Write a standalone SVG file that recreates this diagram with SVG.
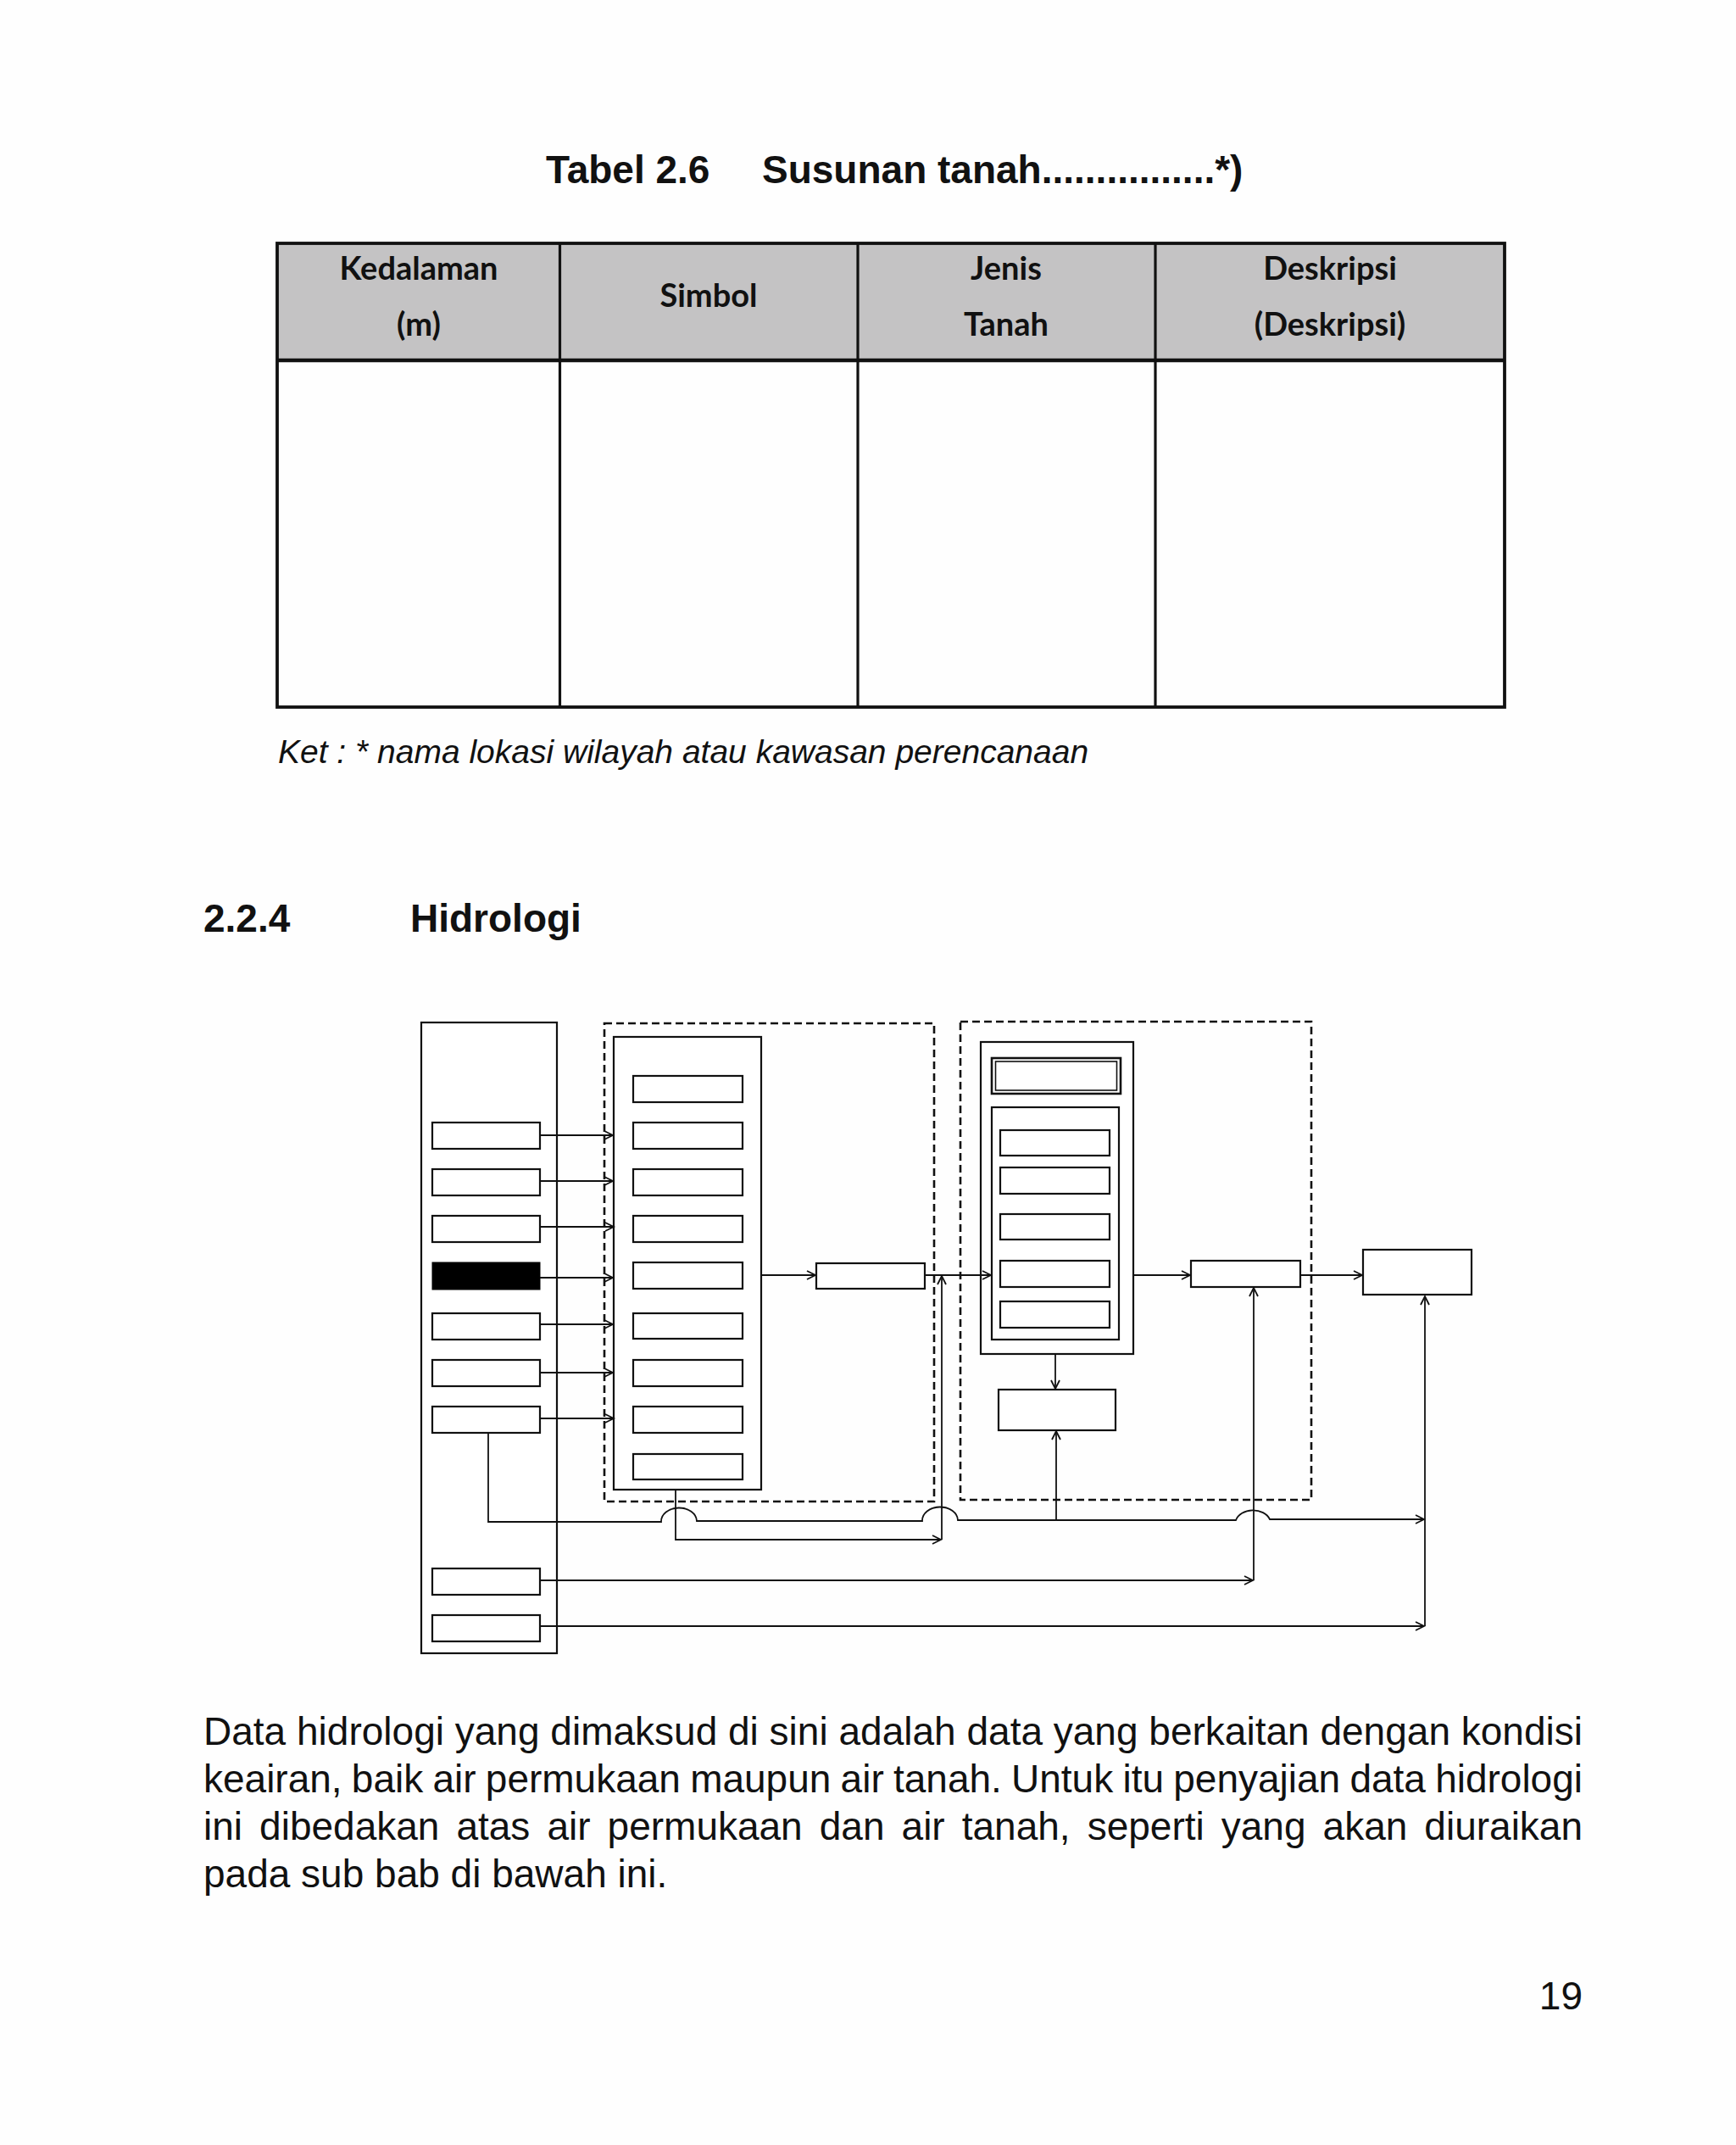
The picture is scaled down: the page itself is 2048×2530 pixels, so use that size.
<svg xmlns="http://www.w3.org/2000/svg" width="2048" height="2530" viewBox="0 0 2048 2530">
<defs>
<style>
.bg{fill:#fefefe}
.ttl{font-family:"Liberation Sans",Arial,sans-serif;font-weight:bold;font-size:46px;fill:#111}
.th{font-family:Lato,"Liberation Sans",sans-serif;font-weight:bold;font-size:38px;fill:#111;text-anchor:middle}
.ket{font-family:"Liberation Sans",Arial,sans-serif;font-style:italic;font-size:39px;fill:#111}
.body{font-family:"Liberation Sans",Arial,sans-serif;font-size:46px;fill:#111}
.box{fill:#fff;stroke:#111;stroke-width:2.2}
.dash{fill:none;stroke:#111;stroke-width:2.6;stroke-dasharray:9 5}
.con{fill:none;stroke:#111;stroke-width:1.8}
.tl{stroke:#111;fill:none}
</style>
<marker id="ah" markerUnits="userSpaceOnUse" markerWidth="14" markerHeight="14" viewBox="-12 -7 14 14" refX="0" refY="0" orient="auto">
<path d="M-10,-5 L0,0 L-10,5" fill="none" stroke="#111" stroke-width="1.8"/>
</marker>
</defs>
<rect class="bg" x="0" y="0" width="2048" height="2530"/>

<g id="title">
<text class="ttl" x="644" y="216">Tabel 2.6</text>
<text class="ttl" x="899" y="216">Susunan tanah................*)</text>
</g>

<g id="table">
<rect x="327" y="287" width="1448" height="138" fill="#c4c3c4"/>
<rect class="tl" x="327" y="287" width="1448" height="547" stroke-width="3.8"/>
<line class="tl" x1="327" y1="425" x2="1775" y2="425" stroke-width="4.5"/>
<line class="tl" x1="660.5" y1="287" x2="660.5" y2="834" stroke-width="3.2"/>
<line class="tl" x1="1012" y1="287" x2="1012" y2="834" stroke-width="3.2"/>
<line class="tl" x1="1363" y1="287" x2="1363" y2="834" stroke-width="3.2"/>
<text class="th" x="494" y="330">Kedalaman</text>
<text class="th" x="494" y="396">(m)</text>
<text class="th" x="836" y="362">Simbol</text>
<text class="th" x="1187" y="330">Jenis</text>
<text class="th" x="1187" y="396">Tanah</text>
<text class="th" x="1569" y="330">Deskripsi</text>
<text class="th" x="1569" y="396">(Deskripsi)</text>
</g>

<text class="ket" x="328" y="900">Ket : * nama lokasi wilayah atau kawasan perencanaan</text>

<g id="heading">
<text class="ttl" x="240" y="1099">2.2.4</text>
<text class="ttl" x="484" y="1099">Hidrologi</text>
</g>

<g id="diagram">
<g id="group-left">
<rect class="box" x="497" y="1206" width="160" height="744"/>
<rect class="box" x="510" y="1324" width="127" height="31"/>
<rect class="box" x="510" y="1379" width="127" height="31"/>
<rect class="box" x="510" y="1434" width="127" height="31"/>
<rect x="510" y="1489" width="127" height="32" fill="#000" stroke="#000" stroke-width="1"/>
<rect class="box" x="510" y="1549" width="127" height="31"/>
<rect class="box" x="510" y="1604" width="127" height="31"/>
<rect class="box" x="510" y="1659" width="127" height="31"/>
<rect class="box" x="510" y="1850" width="127" height="31"/>
<rect class="box" x="510" y="1905" width="127" height="31"/>
</g>

<g id="group-1">
<rect class="dash" x="713" y="1207" width="389" height="564"/>
<rect class="box" x="724" y="1223" width="174" height="534"/>
<rect class="box" x="747" y="1269" width="129" height="31"/>
<rect class="box" x="747" y="1324" width="129" height="31"/>
<rect class="box" x="747" y="1379" width="129" height="31"/>
<rect class="box" x="747" y="1434" width="129" height="31"/>
<rect class="box" x="747" y="1489" width="129" height="31"/>
<rect class="box" x="747" y="1549" width="129" height="30"/>
<rect class="box" x="747" y="1604" width="129" height="31"/>
<rect class="box" x="747" y="1659" width="129" height="31"/>
<rect class="box" x="747" y="1715" width="129" height="30"/>
<rect class="box" x="963" y="1490" width="128" height="30"/>
</g>

<g id="group-2">
<rect class="dash" x="1133" y="1205" width="414" height="564"/>
<rect class="box" x="1157" y="1229" width="180" height="368"/>
<rect x="1170" y="1248" width="152" height="42" fill="#fff" stroke="#111" stroke-width="2.6"/>
<rect x="1174.5" y="1252" width="143" height="34" fill="none" stroke="#111" stroke-width="1.6"/>
<rect class="box" x="1170" y="1306" width="150" height="274"/>
<rect class="box" x="1180" y="1333" width="129" height="30"/>
<rect class="box" x="1180" y="1377" width="129" height="31"/>
<rect class="box" x="1180" y="1432" width="129" height="30"/>
<rect class="box" x="1180" y="1487" width="129" height="31"/>
<rect class="box" x="1180" y="1535" width="129" height="31"/>
<rect class="box" x="1178" y="1639" width="138" height="48"/>
<rect class="box" x="1405" y="1487" width="129" height="31"/>
</g>

<g id="node-final">
<rect class="box" x="1608" y="1474" width="128" height="53"/>
</g>

<g id="connectors">
<path class="con" d="M637,1339 H723" marker-end="url(#ah)"/>
<path class="con" d="M637,1393 H723" marker-end="url(#ah)"/>
<path class="con" d="M637,1447 H724" marker-end="url(#ah)"/>
<path class="con" d="M637,1507 H723" marker-end="url(#ah)"/>
<path class="con" d="M637,1562 H723" marker-end="url(#ah)"/>
<path class="con" d="M637,1619 H723" marker-end="url(#ah)"/>
<path class="con" d="M637,1673 H724" marker-end="url(#ah)"/>
<path class="con" d="M898,1504 H962" marker-end="url(#ah)"/>
<path class="con" d="M1091,1504 H1169" marker-end="url(#ah)"/>
<path class="con" d="M1337,1504 H1404" marker-end="url(#ah)"/>
<path class="con" d="M1534,1504 H1607" marker-end="url(#ah)"/>
<path class="con" d="M1245,1597 V1638" marker-end="url(#ah)"/>
<path class="con" d="M576,1690 V1795 H780 A21,16 0 0 1 822,1794 H1088 A21,16 0 0 1 1130,1793 H1458 A21,16 0 0 1 1498,1792 H1680" marker-end="url(#ah)"/>
<path class="con" d="M797,1757 V1816 H1110" marker-end="url(#ah)"/>
<path class="con" d="M1111,1816 V1505" marker-end="url(#ah)"/>
<path class="con" d="M1246,1793 V1688" marker-end="url(#ah)"/>
<path class="con" d="M637,1864 H1478" marker-end="url(#ah)"/>
<path class="con" d="M1479,1864 V1519" marker-end="url(#ah)"/>
<path class="con" d="M637,1918 H1680" marker-end="url(#ah)"/>
<path class="con" d="M1681,1918 V1529" marker-end="url(#ah)"/>
</g>
</g>

<g id="paragraph">
<text class="body" x="240" y="2058" textLength="1627" lengthAdjust="spacing">Data hidrologi yang dimaksud di sini adalah data yang berkaitan dengan kondisi</text>
<text class="body" x="240" y="2114" word-spacing="-1.5" textLength="1627" lengthAdjust="spacing">keairan, baik air permukaan maupun air tanah. Untuk itu penyajian data hidrologi</text>
<text class="body" x="240" y="2170" word-spacing="7.3" textLength="1627" lengthAdjust="spacing">ini dibedakan atas air permukaan dan air tanah, seperti yang akan diuraikan</text>
<text class="body" x="240" y="2226">pada sub bab di bawah ini.</text>
</g>

<text class="body" x="1867" y="2370" text-anchor="end">19</text>
</svg>
